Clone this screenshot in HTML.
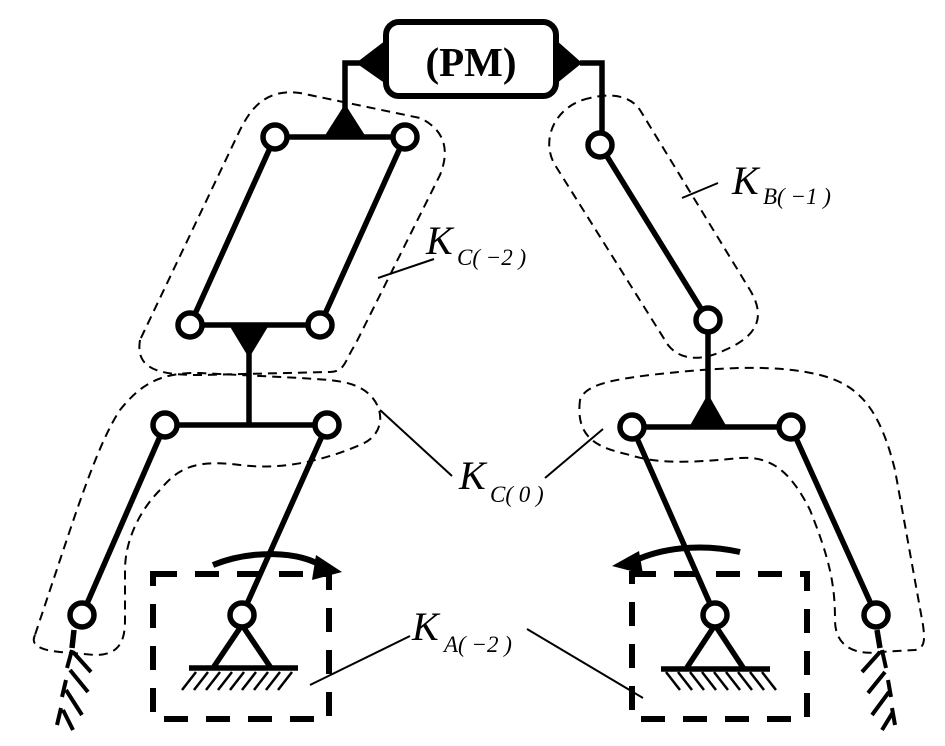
<!DOCTYPE html>
<html><head><meta charset="utf-8"><style>
html,body{margin:0;padding:0;background:#fff;}
svg{display:block;}
.t{font-family:"Liberation Serif",serif;font-style:italic;}
</style></head><body>
<svg width="945" height="746" viewBox="0 0 945 746" xmlns="http://www.w3.org/2000/svg">
<g fill="none" stroke="#000" stroke-width="2" stroke-dasharray="9 6">
<path d="M140,340 C135,370 160,375 200,375 L330,372 C345,372 345,360 355,345 L440,175 C450,150 445,130 420,118 L300,93 C265,88 250,110 240,130 Z"/>
<path d="M590,98 C555,105 540,140 555,165 L668,345 C680,360 700,362 725,350 C760,335 765,315 750,290 L640,110 C630,95 610,93 590,98 Z"/>
<path d="M35,635 C30,645 40,650 60,652 L95,655 C120,655 125,640 125,620 L125,570 C125,540 140,510 160,490 C180,465 200,460 240,465 C280,470 320,462 360,445 C385,435 385,410 370,395 C355,380 330,380 300,378 L200,373 C160,372 140,385 120,410 C100,440 80,500 60,560 Z"/>
<path d="M580,400 C575,440 600,448 630,455 C660,465 700,462 740,458 C770,456 790,470 810,510 C830,560 835,585 835,620 C835,650 860,655 880,652 L915,650 C925,648 925,640 923,625 L895,470 C880,410 860,385 820,375 C780,365 730,366 650,375 C610,380 585,385 580,400 Z"/>
</g>
<g fill="none" stroke="#000" stroke-width="6" stroke-dasharray="24 18">
<rect x="153" y="574" width="176" height="145"/>
<rect x="632" y="574" width="175" height="145"/>
</g>
<g stroke="#000" stroke-width="5.5" fill="none" stroke-linecap="butt">
<rect x="386" y="22" width="170" height="74" rx="13" stroke-width="6"/>
<path d="M360,63 H345 V120"/>
<path d="M580,63 H602 V135"/>
<path d="M275,137 H405 M275,137 L190,325 M405,137 L320,325 M190,325 H320"/>
<path d="M249,340 V425 M165,425 H327 M165,425 L82,615 M327,425 L242,615"/>
<path d="M600,145 L708,320 M708,320 V427 M632,427 H791 M632,427 L715,615 M791,427 L876,615"/>
<path d="M242,625 L213,668 M242,625 L271,668 M189,668 H298"/>
<path d="M715,625 L686,669 M715,625 L744,669 M661,669 H770"/>
<path d="M74,630 L72,648 M877,630 L880,648"/>
<path d="M213,565 C250,550 300,550 325,568" stroke-width="6"/>
<path d="M740,552 C700,543 660,548 632,562" stroke-width="6"/>
</g>
<g stroke="#000" stroke-width="2.5">
<path d="M182,690 L196,672 M194,690 L208,672 M206,690 L220,672 M218,690 L232,672 M230,690 L244,672 M242,690 L256,672 M254,690 L268,672 M266,690 L280,672 M278,690 L292,672"/>
<path d="M666,672 L680,690 M678,672 L692,690 M690,672 L704,690 M702,672 L716,690 M714,672 L728,690 M726,672 L740,690 M738,672 L752,690 M750,672 L764,690 M762,672 L776,690"/>
</g>
<g stroke="#000" stroke-width="4">
<path d="M72,650 L67,668 M66,680 L62,697 M61,708 L57,725"/>
<path d="M73,652 L91,672 M70,670 L88,692 M66,690 L82,715 M63,710 L73,730"/>
<path d="M882,650 L886,668 M888,680 L891,697 M892,708 L895,725"/>
<path d="M880,652 L862,672 M885,672 L868,693 M889,692 L872,715 M893,712 L882,730"/>
</g>
<g fill="#000">
<polygon points="386,40 386,84 356,63"/>
<polygon points="556,40 556,84 582,63"/>
<polygon points="324,137 366,137 345,104"/>
<polygon points="229,325 269,325 249,358"/>
<polygon points="688,429 728,429 708,394"/>
<polygon points="316,555 342,572 312,580"/>
<polygon points="639,551 612,566 643,574"/>
</g>
<g fill="#fff" stroke="#000" stroke-width="5.5">
<circle cx="275" cy="137" r="12"/><circle cx="405" cy="137" r="12"/>
<circle cx="190" cy="325" r="12"/><circle cx="320" cy="325" r="12"/>
<circle cx="165" cy="425" r="12"/><circle cx="327" cy="425" r="12"/>
<circle cx="82" cy="615" r="12"/><circle cx="242" cy="615" r="12"/>
<circle cx="600" cy="145" r="12"/><circle cx="708" cy="320" r="12"/>
<circle cx="632" cy="427" r="12"/><circle cx="791" cy="427" r="12"/>
<circle cx="715" cy="615" r="12"/><circle cx="876" cy="615" r="12"/>
</g>
<g stroke="#000" stroke-width="2">
<path d="M378,278 L434,259"/>
<path d="M682,198 L718,183"/>
<path d="M380,410 L452,476 M545,478 L603,429"/>
<path d="M310,685 L410,636 M527,629 L643,698"/>
</g>
<text x="471" y="76" font-family="Liberation Serif,serif" font-weight="bold" font-size="41" text-anchor="middle">(PM)</text>
<g class="t">
<text x="426" y="254" font-size="40">K</text><text x="457" y="265" font-size="23">C( −2 )</text>
<text x="732" y="194" font-size="40">K</text><text x="763" y="204" font-size="23">B( −1 )</text>
<text x="459" y="489" font-size="40">K</text><text x="490" y="502" font-size="23">C( 0 )</text>
<text x="412" y="640" font-size="40">K</text><text x="444" y="652" font-size="23">A( −2 )</text>
</g>
</svg>
</body></html>
